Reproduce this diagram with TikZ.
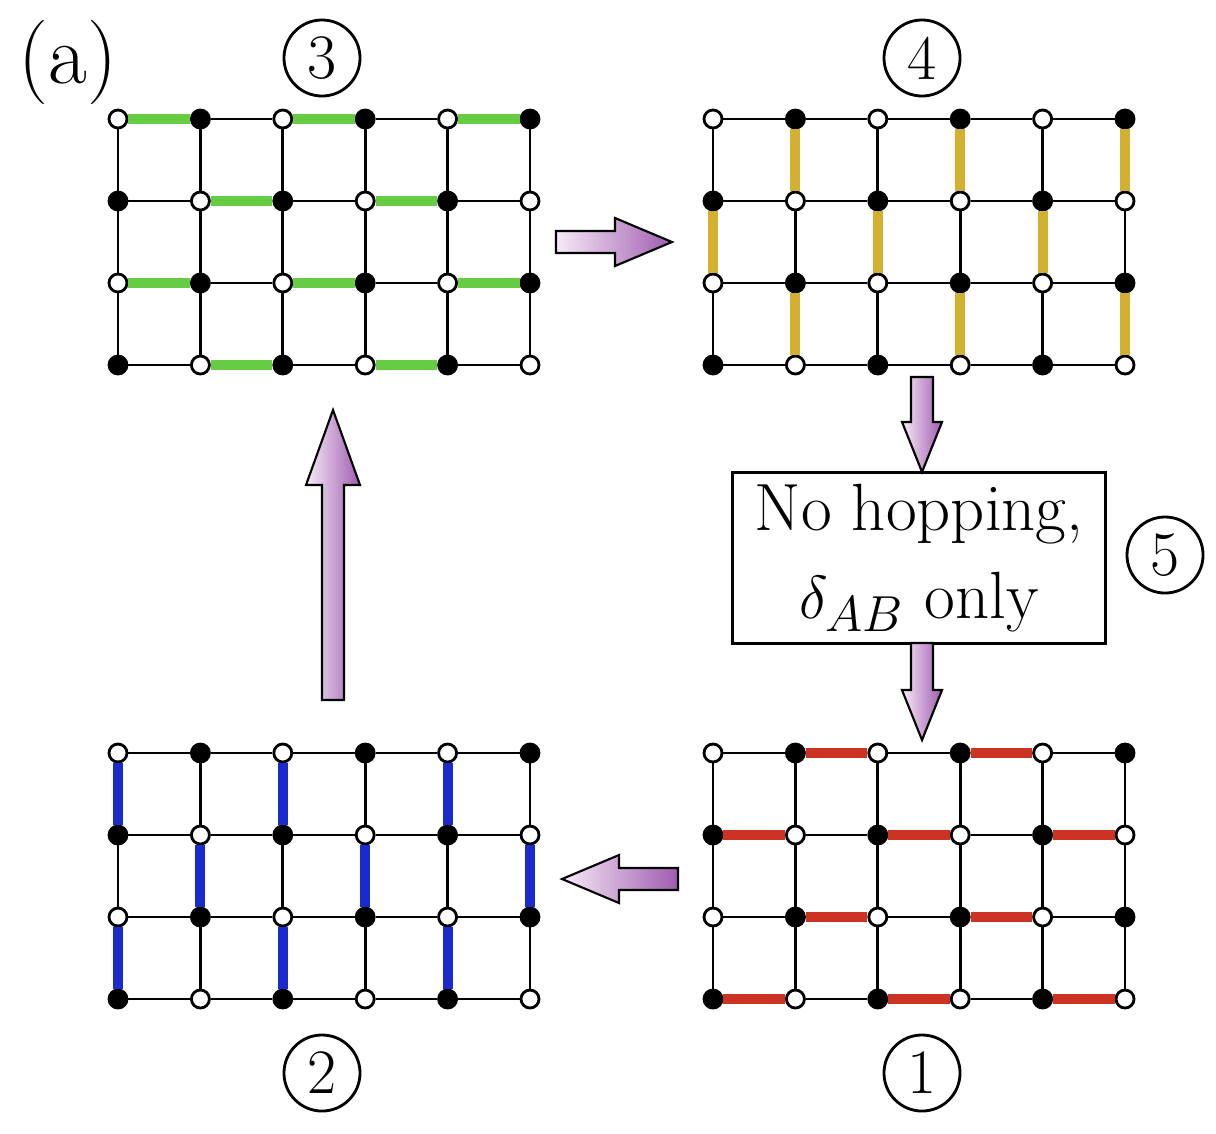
\documentclass[tikz,border=0pt]{standalone}
\usepackage{amsmath}
\usetikzlibrary{positioning}
\definecolor{bondgreen}{HTML}{66CC44}
\definecolor{bondgold}{HTML}{D4B030}
\definecolor{bondblue}{HTML}{1A2ACC}
\definecolor{bondred}{HTML}{CC3322}
\definecolor{arrowpurple}{HTML}{A05CB0}
\definecolor{arrowlight}{HTML}{F6EAF6}
\tikzset{
  site/.style={circle, draw, line width=0.8pt, inner sep=0pt, minimum size=0.18cm},
  grid line/.style={line width=0.8pt},
  bond/.style={line width=2.8pt},
  step label/.style={circle, draw, line width=0.8pt, minimum size=0.76cm, inner sep=0pt, font=\fontsize{18}{20}\selectfont},
}
% fat shaded arrow: base x, base y, angle, length, head length, head half width
\newcommand{\fatarrow}[6]{%
  \shade[draw=black, line width=0.6pt, left color=arrowlight, right color=arrowpurple,
    shift={(#1,#2)}, rotate=#3]
    (0,-11) -- (#4-#5,-11) -- (#4-#5,-#6) -- (#4,0) -- (#4-#5,#6) -- (#4-#5,11) -- (0,11) -- cycle;}
\begin{document}
\begin{tikzpicture}[x=0.01cm, y=-0.01cm]
    \useasboundingbox (0,0) rectangle (1216,1133);

    % lattice sites
    \foreach \g/\ox/\oy in {1/713/753, 2/118/753, 3/118/119, 4/713/119}{
      \foreach \c in {0,...,5}{
        \foreach \r in {0,...,3}{
          \pgfmathtruncatemacro{\odd}{mod(\c+\r,2)}
          \ifnum\odd=1
            \node[site, fill=black] (g\g-\c-\r) at (\ox+82.4*\c, \oy+82*\r) {};
          \else
            \node[site, fill=white] (g\g-\c-\r) at (\ox+82.4*\c, \oy+82*\r) {};
          \fi
        }
      }
    }

    % grid lines
    \foreach \g in {1,2,3,4}{
      \foreach \c in {0,...,5}{
        \foreach \r in {0,...,3}{
          \pgfmathtruncatemacro{\cn}{\c+1}
          \pgfmathtruncatemacro{\rn}{\r+1}
          \ifnum\c<5 \draw[grid line] (g\g-\c-\r) -- (g\g-\cn-\r); \fi
          \ifnum\r<3 \draw[grid line] (g\g-\c-\r) -- (g\g-\c-\rn); \fi
        }
      }
    }

    % dimer bonds
    \foreach \a/\b in {0-0/1-0, 2-0/3-0, 4-0/5-0, 1-1/2-1, 3-1/4-1, 0-2/1-2, 2-2/3-2, 4-2/5-2, 1-3/2-3, 3-3/4-3}
      \draw[bond, bondgreen] (g3-\a) -- (g3-\b);
    \foreach \a/\b in {1-0/1-1, 3-0/3-1, 5-0/5-1, 0-1/0-2, 2-1/2-2, 4-1/4-2, 1-2/1-3, 3-2/3-3, 5-2/5-3}
      \draw[bond, bondgold] (g4-\a) -- (g4-\b);
    \foreach \a/\b in {0-0/0-1, 2-0/2-1, 4-0/4-1, 1-1/1-2, 3-1/3-2, 5-1/5-2, 0-2/0-3, 2-2/2-3, 4-2/4-3}
      \draw[bond, bondblue] (g2-\a) -- (g2-\b);
    \foreach \a/\b in {1-0/2-0, 3-0/4-0, 0-1/1-1, 2-1/3-1, 4-1/5-1, 1-2/2-2, 3-2/4-2, 0-3/1-3, 2-3/3-3, 4-3/5-3}
      \draw[bond, bondred] (g1-\a) -- (g1-\b);

    % labels
    \node[font=\fontsize{24}{26}\selectfont] (panel) at (68,62) {(a)};
    \node[step label] (s3) at (322,58) {3};
    \node[step label] (s4) at (922,58) {4};
    \node[step label] (s2) at (322,1073) {2};
    \node[step label] (s1) at (922,1073) {1};
    \node[step label] (s5) at (1165,555) {5};
    \node[draw, line width=0.8pt, minimum width=3.73cm, minimum height=1.51cm, align=center,
      font=\fontsize{19}{25}\selectfont] (box) at (919,558) {No hopping,\\$\delta_{AB}$ only};

    % arrows
    \fatarrow{556}{242}{0}{116}{57}{24}
    \fatarrow{922}{377}{-90}{95}{50}{20}
    \fatarrow{922}{643}{-90}{97}{50}{20}
    \fatarrow{678}{879}{180}{116}{57}{24}
    \fatarrow{333}{700}{90}{290}{75}{27}
\end{tikzpicture}
\end{document}
